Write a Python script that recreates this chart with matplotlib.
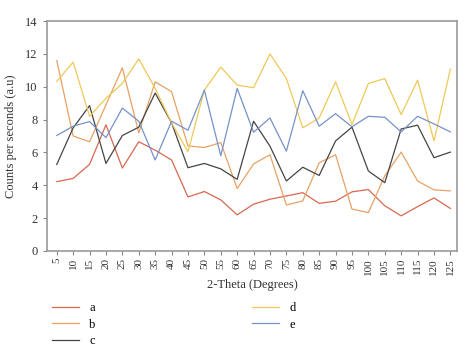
import matplotlib
matplotlib.use("Agg")
import matplotlib.pyplot as plt

plt.rcParams['font.family'] = ['Liberation Serif', 'DejaVu Serif']

theta = list(range(5, 130, 5))

a = [4.22, 4.42, 5.27, 7.68, 5.05, 6.65, 6.14, 5.54, 3.29, 3.62, 3.11, 2.2, 2.85,
     3.15, 3.35, 3.55, 2.9, 3.03, 3.6, 3.74, 2.75, 2.14, 2.7, 3.23, 2.59]
b = [11.6, 7.0, 6.65, 8.9, 11.15, 7.2, 10.3, 9.7, 6.4, 6.3, 6.6, 3.8, 5.3,
     5.86, 2.8, 3.05, 5.37, 5.86, 2.55, 2.34, 4.57, 6.02, 4.26, 3.72, 3.66]
c = [5.27, 7.5, 8.85, 5.33, 7.03, 7.54, 9.62, 7.8, 5.07, 5.33, 5.0, 4.36, 7.9,
     6.38, 4.26, 5.1, 4.6, 6.7, 7.54, 4.87, 4.16, 7.43, 7.66, 5.68, 6.02]
d = [10.32, 11.5, 8.2, 9.3, 10.2, 11.7, 9.9, 7.8, 6.04, 9.8, 11.2, 10.1, 9.94,
     12.0, 10.5, 7.5, 8.1, 10.3, 7.7, 10.2, 10.5, 8.3, 10.4, 6.7, 11.07]
e = [7.03, 7.6, 7.88, 6.9, 8.7, 7.9, 5.54, 7.9, 7.35, 9.8, 5.8, 9.9, 7.23,
     8.1, 6.08, 9.76, 7.6, 8.36, 7.56, 8.2, 8.14, 7.25, 8.2, 7.74, 7.25]

series = [('a', a, '#d8684f'), ('b', b, '#e8a263'), ('c', c, '#454545'),
          ('d', d, '#efc957'), ('e', e, '#7692c8')]

fig = plt.figure(figsize=(4.74, 3.57), dpi=100)
ax = fig.add_axes([0.099, 0.297, 0.865, 0.644])

for name, vals, col in series:
    ax.plot(theta, vals, color=col, lw=0.9, label=name)

ax.set_xlim(2, 127)
ax.set_ylim(0, 14)
ax.set_xticks(theta)
ax.set_xticklabels([str(t) for t in theta], rotation=90, fontsize=8, color='#333333')
ax.set_yticks(range(0, 15, 2))
ax.tick_params(axis='y', labelsize=9, colors='#333333', length=3, color='#888888')
ax.tick_params(axis='x', length=3, color='#888888', pad=2)
for sp in ax.spines.values():
    sp.set_color('#999999')
    sp.set_linewidth(1.2)

ax.set_xlabel('2-Theta (Degrees)', fontsize=9, color='#333333', labelpad=3)
ax.set_ylabel('Counts per seconds (a.u)', fontsize=9, color='#333333', labelpad=6)

fig.legend(loc='upper left', bbox_to_anchor=(0.085, 0.185), ncol=2,
           frameon=False, fontsize=9, handlelength=2.2, columnspacing=12.5,
           labelspacing=0.35, handletextpad=0.8)

fig.savefig('out.png', dpi=100)
